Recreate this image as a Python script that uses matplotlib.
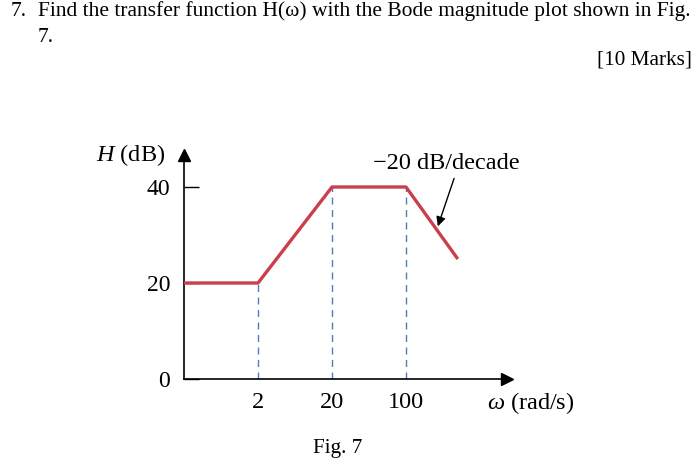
import matplotlib.pyplot as plt

plt.rcParams['font.family'] = ['Liberation Serif', 'DejaVu Serif']
plt.rcParams['mathtext.fontset'] = 'custom'
plt.rcParams['mathtext.rm'] = 'Liberation Serif'
plt.rcParams['mathtext.it'] = 'Liberation Serif:italic'

# schematic frequency positions (equal spacing per corner) and magnitudes in dB
corner_labels = ['2', '20', '100']
corner_pos = [1, 2, 3]
curve_pos = [0, 1, 2, 3, 3.7]
curve_db = [20, 20, 40, 40, 25]
ytick_vals = [0, 20, 40]

PX = 74.0    # pixels per schematic unit
PY = 4.8     # pixels per dB
left, right, bottom, top = 184, 507, 379, 155

fig = plt.figure(figsize=(7, 4.75), dpi=100)
W, H = 700, 475
ax = fig.add_axes([left / W, 1 - bottom / H, (right - left) / W, (bottom - top) / H])
ax.set_xlim(0, (right - left) / PX)
ax.set_ylim(0, (bottom - top) / PY)

for s in ['top', 'right']:
    ax.spines[s].set_visible(False)
for s in ['left', 'bottom']:
    ax.spines[s].set_linewidth(1.2)
ax.plot(1, 0, '>k', ms=9, transform=ax.transAxes, clip_on=False)
ax.plot(0, 1, '^k', ms=9, transform=ax.transAxes, clip_on=False)

red = '#c9404c'
blue = '#4f7cb8'
corner_db = [curve_db[curve_pos.index(p)] for p in corner_pos]
ax.vlines(corner_pos, 0, corner_db, colors=blue, linewidth=1.0,
          linestyles=(0, (5, 4)), zorder=2)
ax.plot(curve_pos, curve_db, color=red, linewidth=2.4, solid_capstyle='butt',
        zorder=3, clip_on=False)

ax.set_xticks(corner_pos)
ax.set_xticklabels(corner_labels)
ax.tick_params(axis='x', length=0, pad=9, labelsize=17.5)
ax.set_yticks(ytick_vals)
ax.tick_params(axis='y', direction='in', length=11, width=1.0, pad=10, labelsize=17)

ax.text(-0.059, 1.0, '$H$ (dB)', transform=ax.transAxes, fontsize=17.5,
        ha='right', va='center')
ax.text(0.938, -0.107, r'$\omega$ (rad/s)', transform=ax.transAxes, fontsize=17.5,
        ha='left', va='center')
ax.text(3.55, 44.8, '\u221220 dB/decade', fontsize=17.5, ha='center', va='center')
ax.annotate('', xy=(3.43, 31.8), xytext=(3.65, 41.8),
            arrowprops=dict(arrowstyle='-|>', color='k', lw=1.0,
                            mutation_scale=14, shrinkA=0, shrinkB=0))

fig.text(11 / W, 1 - 16 / H, '7.', fontsize=15.5, ha='left', va='baseline')
fig.text(38 / W, 1 - 16 / H, 'Find the transfer function H(\u03c9) with the Bode magnitude plot shown in Fig.',
         fontsize=15.5, ha='left', va='baseline')
fig.text(38 / W, 1 - 42 / H, '7.', fontsize=15.5, ha='left', va='baseline')
fig.text(692 / W, 1 - 65 / H, '[10 Marks]', fontsize=15.3, ha='right', va='baseline')
fig.text(338 / W, 1 - 449 / H, 'Fig. 7', fontsize=15.3, ha='center', va='center')

fig.savefig('out.png', dpi=100)
